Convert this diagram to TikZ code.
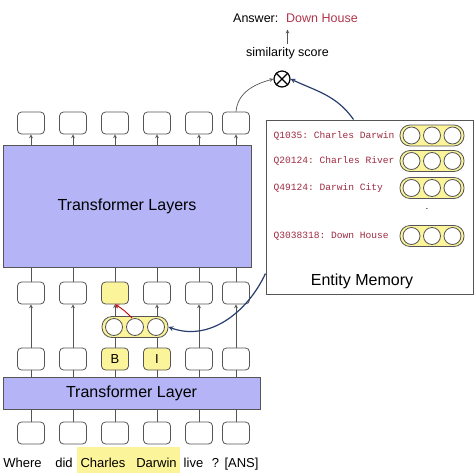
\documentclass[tikz,border=0pt]{standalone}
\usepackage{fontspec}
\setmainfont{Liberation Sans}
\setmonofont{Liberation Mono}
\definecolor{lav}{HTML}{B4B4F6}
\definecolor{hly}{HTML}{FCF49A}
\definecolor{ansred}{HTML}{B0354A}
\definecolor{qred}{HTML}{9E2A40}
\definecolor{navy}{HTML}{2A3E6E}
\definecolor{edge}{HTML}{555555}

\begin{document}
\begin{tikzpicture}[x=1pt, y=-1pt,
    tok/.style={rectangle, draw=edge, fill=white, line width=0.8pt, rounded corners=4pt, minimum width=27pt, minimum height=22pt, inner sep=0pt, font=\fontsize{13}{13}\selectfont},
    tokhl/.style={tok, fill=hly},
    layer/.style={rectangle, draw=edge, fill=lav, line width=1pt, inner sep=0pt, font=\fontsize{16}{16}\selectfont},
    vec/.style={rectangle, draw=edge, fill=hly, line width=0.8pt, rounded corners=10pt, minimum width=64pt, minimum height=21pt, inner sep=0pt},
    ball/.style={circle, draw=edge, fill=white, line width=0.8pt, minimum size=17pt, inner sep=0pt},
    ent/.style={anchor=west, text=qred, font=\ttfamily\fontsize{9.6}{10}\selectfont},
    word/.style={anchor=base, inner sep=0pt, font=\fontsize{13}{13}\selectfont},
    link/.style={draw=edge, line width=0.7pt},
    up/.style={link, ->, >=stealth}
]
    \useasboundingbox (0,0) rectangle (474,474);

    % Output tokens
    \node[tok] (a1) at (31,123) {};
    \node[tok] (a2) at (73,123) {};
    \node[tok] (a3) at (115,123) {};
    \node[tok] (a4) at (157,123) {};
    \node[tok] (a5) at (199,123) {};
    \node[tok] (a6) at (236,123) {};

    \node[layer, minimum width=248pt, minimum height=122pt] (tls) at (127,206) {Transformer Layers};

    % Entity tokens
    \node[tok] (b1) at (31,293) {};
    \node[tok] (b2) at (73,293) {};
    \node[tokhl] (b3) at (115,293) {};
    \node[tok] (b4) at (157,293) {};
    \node[tok] (b5) at (199,293) {};
    \node[tok] (b6) at (236,293) {};

    % Mention embedding
    \node[vec, minimum width=66pt] (q) at (135,327) {};
    \node[ball] (q1) at (114,327) {};
    \node[ball] (q2) at (135,327) {};
    \node[ball] (q3) at (156,327) {};

    % Mention tokens
    \node[tok] (c1) at (31,359) {};
    \node[tok] (c2) at (73,359) {};
    \node[tokhl] (c3) at (115,359) {B};
    \node[tokhl] (c4) at (157,359) {I};
    \node[tok] (c5) at (199,359) {};
    \node[tok] (c6) at (236,359) {};

    \node[layer, minimum width=257pt, minimum height=32pt] (tl) at (131.5,393) {Transformer Layer};

    % Input tokens
    \node[tok] (d1) at (31,433) {};
    \node[tok] (d2) at (73,433) {};
    \node[tok] (d3) at (115,433) {};
    \node[tok] (d4) at (157,433) {};
    \node[tok] (d5) at (199,433) {};
    \node[tok] (d6) at (236,433) {};

    % Question
    \node[rectangle, fill=hly, minimum width=103pt, minimum height=26pt] (hl) at (128.5,460) {};
    \node[word] (w1) at (22.5,467) {Where};
    \node[word] (w2) at (64,467) {did};
    \node[word] (w3) at (103,467) {Charles};
    \node[word] (w4) at (156.5,467) {Darwin};
    \node[word] (w5) at (193.5,467) {live};
    \node[word] (w6) at (215.5,467) {?};
    \node[word] (w7) at (241.5,467) {[ANS]};

    % Entity Memory
    \node[rectangle, draw=edge, line width=1pt, minimum width=207pt, minimum height=174pt] (mem) at (369.5,207) {};
    \node[font=\fontsize{16}{16}\selectfont] (memlabel) at (362,281) {Entity Memory};
    \node[ent] (e1) at (270,135.5) {Q1035: Charles Darwin};
    \node[ent] (e2) at (270,161) {Q20124: Charles River};
    \node[ent] (e3) at (270,188) {Q49124: Darwin City};
    \node[ent] (e4) at (270,236) {Q3038318: Down House};
    \node[vec] (v1) at (432,135.5) {};
    \node[ball] (v1a) at (411.5,135.5) {};
    \node[ball] (v1b) at (432,135.5) {};
    \node[ball] (v1c) at (452.5,135.5) {};
    \node[vec] (v2) at (432,161) {};
    \node[ball] (v2a) at (411.5,161) {};
    \node[ball] (v2b) at (432,161) {};
    \node[ball] (v2c) at (452.5,161) {};
    \node[vec] (v3) at (432,188) {};
    \node[ball] (v3a) at (411.5,188) {};
    \node[ball] (v3b) at (432,188) {};
    \node[ball] (v3c) at (452.5,188) {};
    \node (vdots) at (427,209) {.};
    \node[vec] (v4) at (432,236) {};
    \node[ball] (v4a) at (411.5,236) {};
    \node[ball] (v4b) at (432,236) {};
    \node[ball] (v4c) at (452.5,236) {};

    % Scoring
    \node[circle, draw=black, line width=1.2pt, minimum size=16pt, inner sep=0pt] (sim) at (282,79) {};
    \draw[line width=1.2pt] (sim.north west) -- (sim.south east) (sim.north east) -- (sim.south west);
    \node[font=\fontsize{12.5}{12.5}\selectfont] (score) at (287.5,53) {similarity score};
    \node[anchor=west, inner sep=0pt, font=\fontsize{12.5}{12.5}\selectfont] (ans) at (233,18) {Answer:};
    \node[anchor=west, inner sep=0pt, text=ansred, font=\fontsize{12.5}{12.5}\selectfont] (dh) at (286,18) {Down House};

    % Connectors
    \draw[link] (d1.north) -- (d1.north |- tl.south) (d2.north) -- (d2.north |- tl.south) (d3.north) -- (d3.north |- tl.south)
        (d4.north) -- (d4.north |- tl.south) (d5.north) -- (d5.north |- tl.south) (d6.north) -- (d6.north |- tl.south);
    \draw[link] (tl.north -| c1) -- (c1.south) (tl.north -| c2) -- (c2.south) (tl.north -| c3) -- (c3.south)
        (tl.north -| c4) -- (c4.south) (tl.north -| c5) -- (c5.south) (tl.north -| c6) -- (c6.south);
    \draw[up] (c1.north) -- (b1.south);
    \draw[up] (c2.north) -- (b2.south);
    \draw[up] (c5.north) -- (b5.south);
    \draw[up] (c6.north) -- (b6.south);
    \draw[link] (c3.north) -- (c3.north |- q.south) (c4.north) -- (c4.north |- q.south);
    \draw[up] (q.north -| b3) -- (b3.south);
    \draw[up] (q.north -| b4) -- (b4.south);
    \draw[->, >=stealth, line width=0.9pt, red!75!black] ([xshift=-3pt]q2.north) to[bend right=8] (b3.south);
    \draw[link] (b1.north) -- (b1.north |- tls.south) (b2.north) -- (b2.north |- tls.south) (b3.north) -- (b3.north |- tls.south)
        (b4.north) -- (b4.north |- tls.south) (b5.north) -- (b5.north |- tls.south) (b6.north) -- (b6.north |- tls.south);
    \draw[up] (tls.north -| a1) -- (a1.south);
    \draw[up] (tls.north -| a2) -- (a2.south);
    \draw[up] (tls.north -| a3) -- (a3.south);
    \draw[up] (tls.north -| a4) -- (a4.south);
    \draw[up] (tls.north -| a5) -- (a5.south);
    \draw[up] (tls.north -| a6) -- (a6.south);

    \draw[up] (a6.north) to[out=85, in=195] (sim.west);
    \draw[->, >=stealth, line width=1.2pt, navy] ([xshift=-16pt]mem.north) to[out=125, in=-25] (sim.east);
    \draw[->, >=stealth, line width=1.2pt, navy] ([yshift=21pt]mem.south west) to[out=245, in=-20] (q.east);
    \draw[up] (score.north) -- ([yshift=-7pt]score.north |- dh.south);
\end{tikzpicture}
\end{document}
